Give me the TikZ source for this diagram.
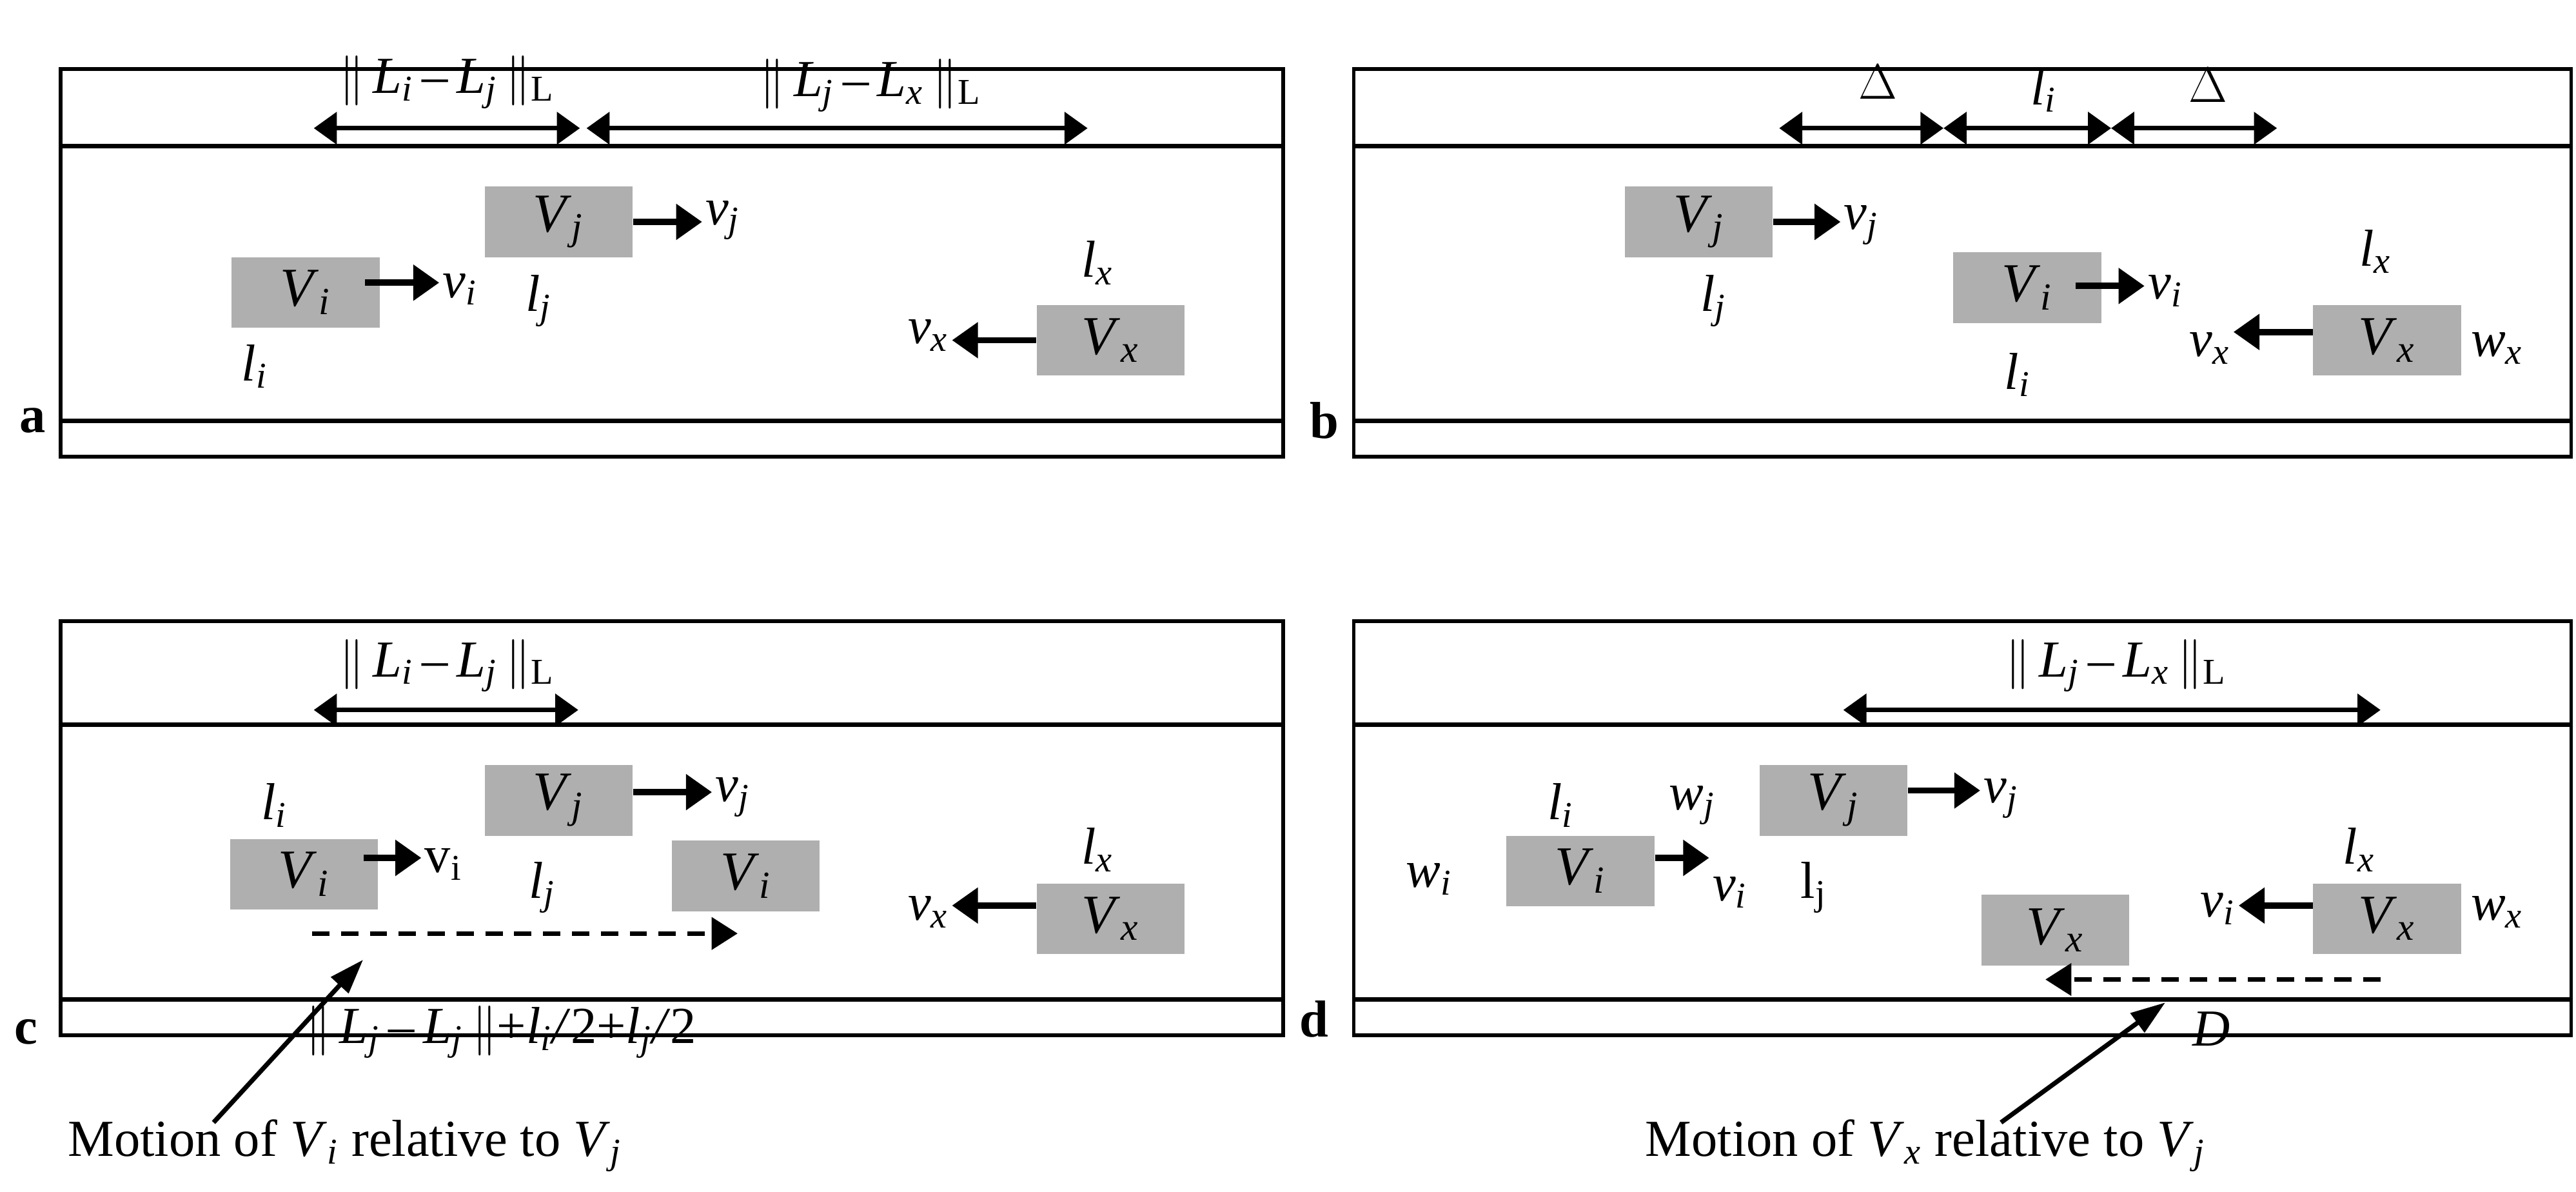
\documentclass[tikz,border=0pt]{standalone}
\usepackage{fontspec}
\setmainfont{Liberation Serif}
\usetikzlibrary{arrows.meta,positioning}
\definecolor{carGray}{RGB}{175,175,175}
\newcommand{\sym}[2]{\textit{#1}\textsubscript{\textit{#2}}}
\newcommand{\nrm}{$\|$}
\tikzset{
  car/.style={fill=carGray, minimum width=1.8cm, minimum height=0.86cm, inner sep=0pt, font=\fontsize{19}{19}\selectfont},
  lbl/.style={inner sep=1pt, font=\fontsize{18}{18}\selectfont},
  road/.style={line width=1.6pt},
  frame/.style={line width=1.3pt},
  move/.style={line width=2.2pt, -{Triangle[length=9pt,width=12pt]}},
  span/.style={line width=1.6pt, {Triangle[length=8pt,width=11pt]}-{Triangle[length=8pt,width=11pt]}},
  rel/.style={line width=1.6pt, dashed, dash pattern=on 6pt off 4pt, -{Triangle[length=9pt,width=11pt]}},
  point/.style={line width=1.6pt, -{Triangle[length=12pt,width=8pt]}}
}
\begin{document}
\begin{tikzpicture}[x=0.02cm, y=-0.02cm]
\useasboundingbox (0,0) rectangle (1568,725);

% panel a
\draw[frame] (37,42) rectangle (781,278);
\draw[road] (37,89) -- (781,89);
\draw[road] (37,256) -- (781,256);
\node[lbl, font=\bfseries\fontsize{18}{18}\selectfont] (a) at (20,256) {a};
\coordinate (a1) at (191,78); \coordinate (a2) at (353,78); \coordinate (a3) at (357,78); \coordinate (a4) at (662,78);
\draw[span] (a1) -- (a2);
\draw[span] (a3) -- (a4);
\node[lbl] (aij) at (272,50) {\nrm\,\sym{L}{i}\,–\,\sym{L}{j}\,\nrm\textsubscript{L}};
\node[lbl] (ajx) at (530,52) {\nrm\,\sym{L}{j}\,–\,\sym{L}{x}\,\nrm\textsubscript{L}};
\node[car] (aVi) at (186,178) {\sym{V}{i}};
\node[car] (aVj) at (340,135) {\sym{V}{j}};
\node[car] (aVx) at (676,207) {\sym{V}{x}};
\node[lbl] (avi) at (280,176) {\sym{v}{i}};
\node[lbl] (avj) at (440,134) {\sym{v}{j}};
\node[lbl] (avx) at (565,204) {\sym{v}{x}};
\node[lbl] (ali) at (155,223) {\sym{l}{i}};
\node[lbl] (alj) at (328,183) {\sym{l}{j}};
\node[lbl] (alx) at (668,160) {\sym{l}{x}};
\draw[move] (aVi.east) ++(-9,-6) coordinate (aVie) (aVie) -- (avi.west|-aVie);
\draw[move] (aVj.east) -- (avj.west|-aVj.east);
\draw[move] (aVx.west) -- (avx.east|-aVx.west);

% panel b
\draw[frame] (824,42) rectangle (1565,278);
\draw[road] (824,89) -- (1565,89);
\draw[road] (824,256) -- (1565,256);
\node[lbl, font=\bfseries\fontsize{18}{18}\selectfont] (b) at (806,256) {b};
\coordinate (b1) at (1083,78); \coordinate (b2) at (1183,78); \coordinate (b3) at (1285,78); \coordinate (b4) at (1386,78);
\draw[span] (b1) -- (b2);
\draw[span] (b2) -- (b3);
\draw[span] (b3) -- (b4);
\node[lbl] (bd1) at (1143,50) {$\Delta$};
\node[lbl] (bli) at (1244,55) {\sym{l}{i}};
\node[lbl] (bd2) at (1344,52) {$\Delta$};
\node[car] (bVj) at (1034,135) {\sym{V}{j}};
\node[car] (bVi) at (1234,175) {\sym{V}{i}};
\node[car] (bVx) at (1453,207) {\sym{V}{x}};
\node[lbl] (bvj) at (1133,137) {\sym{v}{j}};
\node[lbl] (bvi) at (1318,177) {\sym{v}{i}};
\node[lbl] (bvx) at (1345,212) {\sym{v}{x}};
\node[lbl] (bwx) at (1520,212) {\sym{w}{x}};
\node[lbl] (blj) at (1043,183) {\sym{l}{j}};
\node[lbl] (bli2) at (1228,228) {\sym{l}{i}};
\node[lbl] (blx) at (1446,153) {\sym{l}{x}};
\draw[move] (bVj.east) -- (bvj.west|-bVj.east);
\draw[move] (bVi.east) ++(-16,-1) coordinate (bVie) (bVie) -- (bvi.west|-bVie);
\draw[move] (bVx.west) ++(0,-5) coordinate (bVxw) (bVxw) -- (bvx.east|-bVxw);

% panel c
\draw[frame] (37,378) rectangle (781,630);
\draw[road] (37,441) -- (781,441);
\draw[road] (37,608) -- (781,608);
\node[lbl, font=\bfseries\fontsize{18}{18}\selectfont] (c) at (16,628) {c};
\coordinate (c1) at (191,432); \coordinate (c2) at (352,432);
\draw[span] (c1) -- (c2);
\node[lbl] (cij) at (272,405) {\nrm\,\sym{L}{i}\,–\,\sym{L}{j}\,\nrm\textsubscript{L}};
\node[car] (cVi) at (185,532) {\sym{V}{i}};
\node[car] (cVj) at (340,487) {\sym{V}{j}};
\node[car] (cVi2) at (454,533) {\sym{V}{i}};
\node[car] (cVx) at (676,559) {\sym{V}{x}};
\node[lbl] (cvi) at (270,526) {v\textsubscript{i}};
\node[lbl] (cvj) at (446,485) {\sym{v}{j}};
\node[lbl] (cvx) at (565,555) {\sym{v}{x}};
\node[lbl] (cli) at (167,490) {\sym{l}{i}};
\node[lbl] (clj) at (330,540) {\sym{l}{j}};
\node[lbl] (clx) at (668,517) {\sym{l}{x}};
\draw[move] (cVi.east) ++(-9,-10) coordinate (cVie) (cVie) -- (cvi.west|-cVie);
\draw[move] (cVj.east) ++(0,-5) coordinate (cVje) (cVje) -- (cvj.west|-cVje);
\draw[move] (cVx.west) ++(0,-8) coordinate (cVxw) (cVxw) -- (cvx.east|-cVxw);
\coordinate (cr1) at (190,568); \coordinate (cr2) at (449,568);
\draw[rel] (cr1) -- (cr2);
\node[lbl] (csum) at (305,628) {\nrm\,\sym{L}{j}\,–\,\sym{L}{j}\,\nrm+\sym{l}{i}\textit{/}2+\sym{l}{j}\textit{/}2};
\node[lbl] (cmot) at (210,697) {Motion of \sym{V}{i} relative to \sym{V}{j}};
\coordinate (cp1) at (130,683); \coordinate (cp2) at (221,584);
\draw[point] (cp1) -- (cp2);

% panel d
\draw[frame] (824,378) rectangle (1565,630);
\draw[road] (824,441) -- (1565,441);
\draw[road] (824,608) -- (1565,608);
\node[lbl, font=\bfseries\fontsize{18}{18}\selectfont] (d) at (800,620) {d};
\coordinate (d1) at (1122,432); \coordinate (d2) at (1449,432);
\draw[span] (d1) -- (d2);
\node[lbl] (djx) at (1288,405) {\nrm\,\sym{L}{j}\,–\,\sym{L}{x}\,\nrm\textsubscript{L}};
\node[car] (dVi) at (962,530) {\sym{V}{i}};
\node[car] (dVj) at (1116,487) {\sym{V}{j}};
\node[car] (dVx2) at (1251,566) {\sym{V}{x}};
\node[car] (dVx) at (1453,559) {\sym{V}{x}};
\node[lbl] (dwi) at (870,535) {\sym{w}{i}};
\node[lbl] (dli) at (950,490) {\sym{l}{i}};
\node[lbl] (dwj) at (1030,490) {\sym{w}{j}};
\node[lbl] (dvi) at (1053,543) {\sym{v}{i}};
\node[lbl] (dlj) at (1104,540) {l\textsubscript{j}};
\node[lbl] (dvj) at (1218,486) {\sym{v}{j}};
\node[lbl] (dlx) at (1436,517) {\sym{l}{x}};
\node[lbl] (dvi2) at (1350,553) {\sym{v}{i}};
\node[lbl] (dwx) at (1520,555) {\sym{w}{x}};
\draw[move] (dVi.east) ++(0,-8) coordinate (dVie) (dVie) -- ++(33,0);
\draw[move] (dVj.east) ++(0,-6) coordinate (dVje) (dVje) -- (dvj.west|-dVje);
\draw[move] (dVx.west) ++(0,-8) coordinate (dVxw) (dVxw) -- (dvi2.east|-dVxw);
\coordinate (dr1) at (1449,596); \coordinate (dr2) at (1245,596);
\draw[rel] (dr1) -- (dr2);
\node[lbl] (dD) at (1346,626) {\textit{D}};
\node[lbl] (dmot) at (1172,697) {Motion of \sym{V}{x} relative to \sym{V}{j}};
\coordinate (dp1) at (1218,683); \coordinate (dp2) at (1318,610);
\draw[point] (dp1) -- (dp2);
\end{tikzpicture}
\end{document}
